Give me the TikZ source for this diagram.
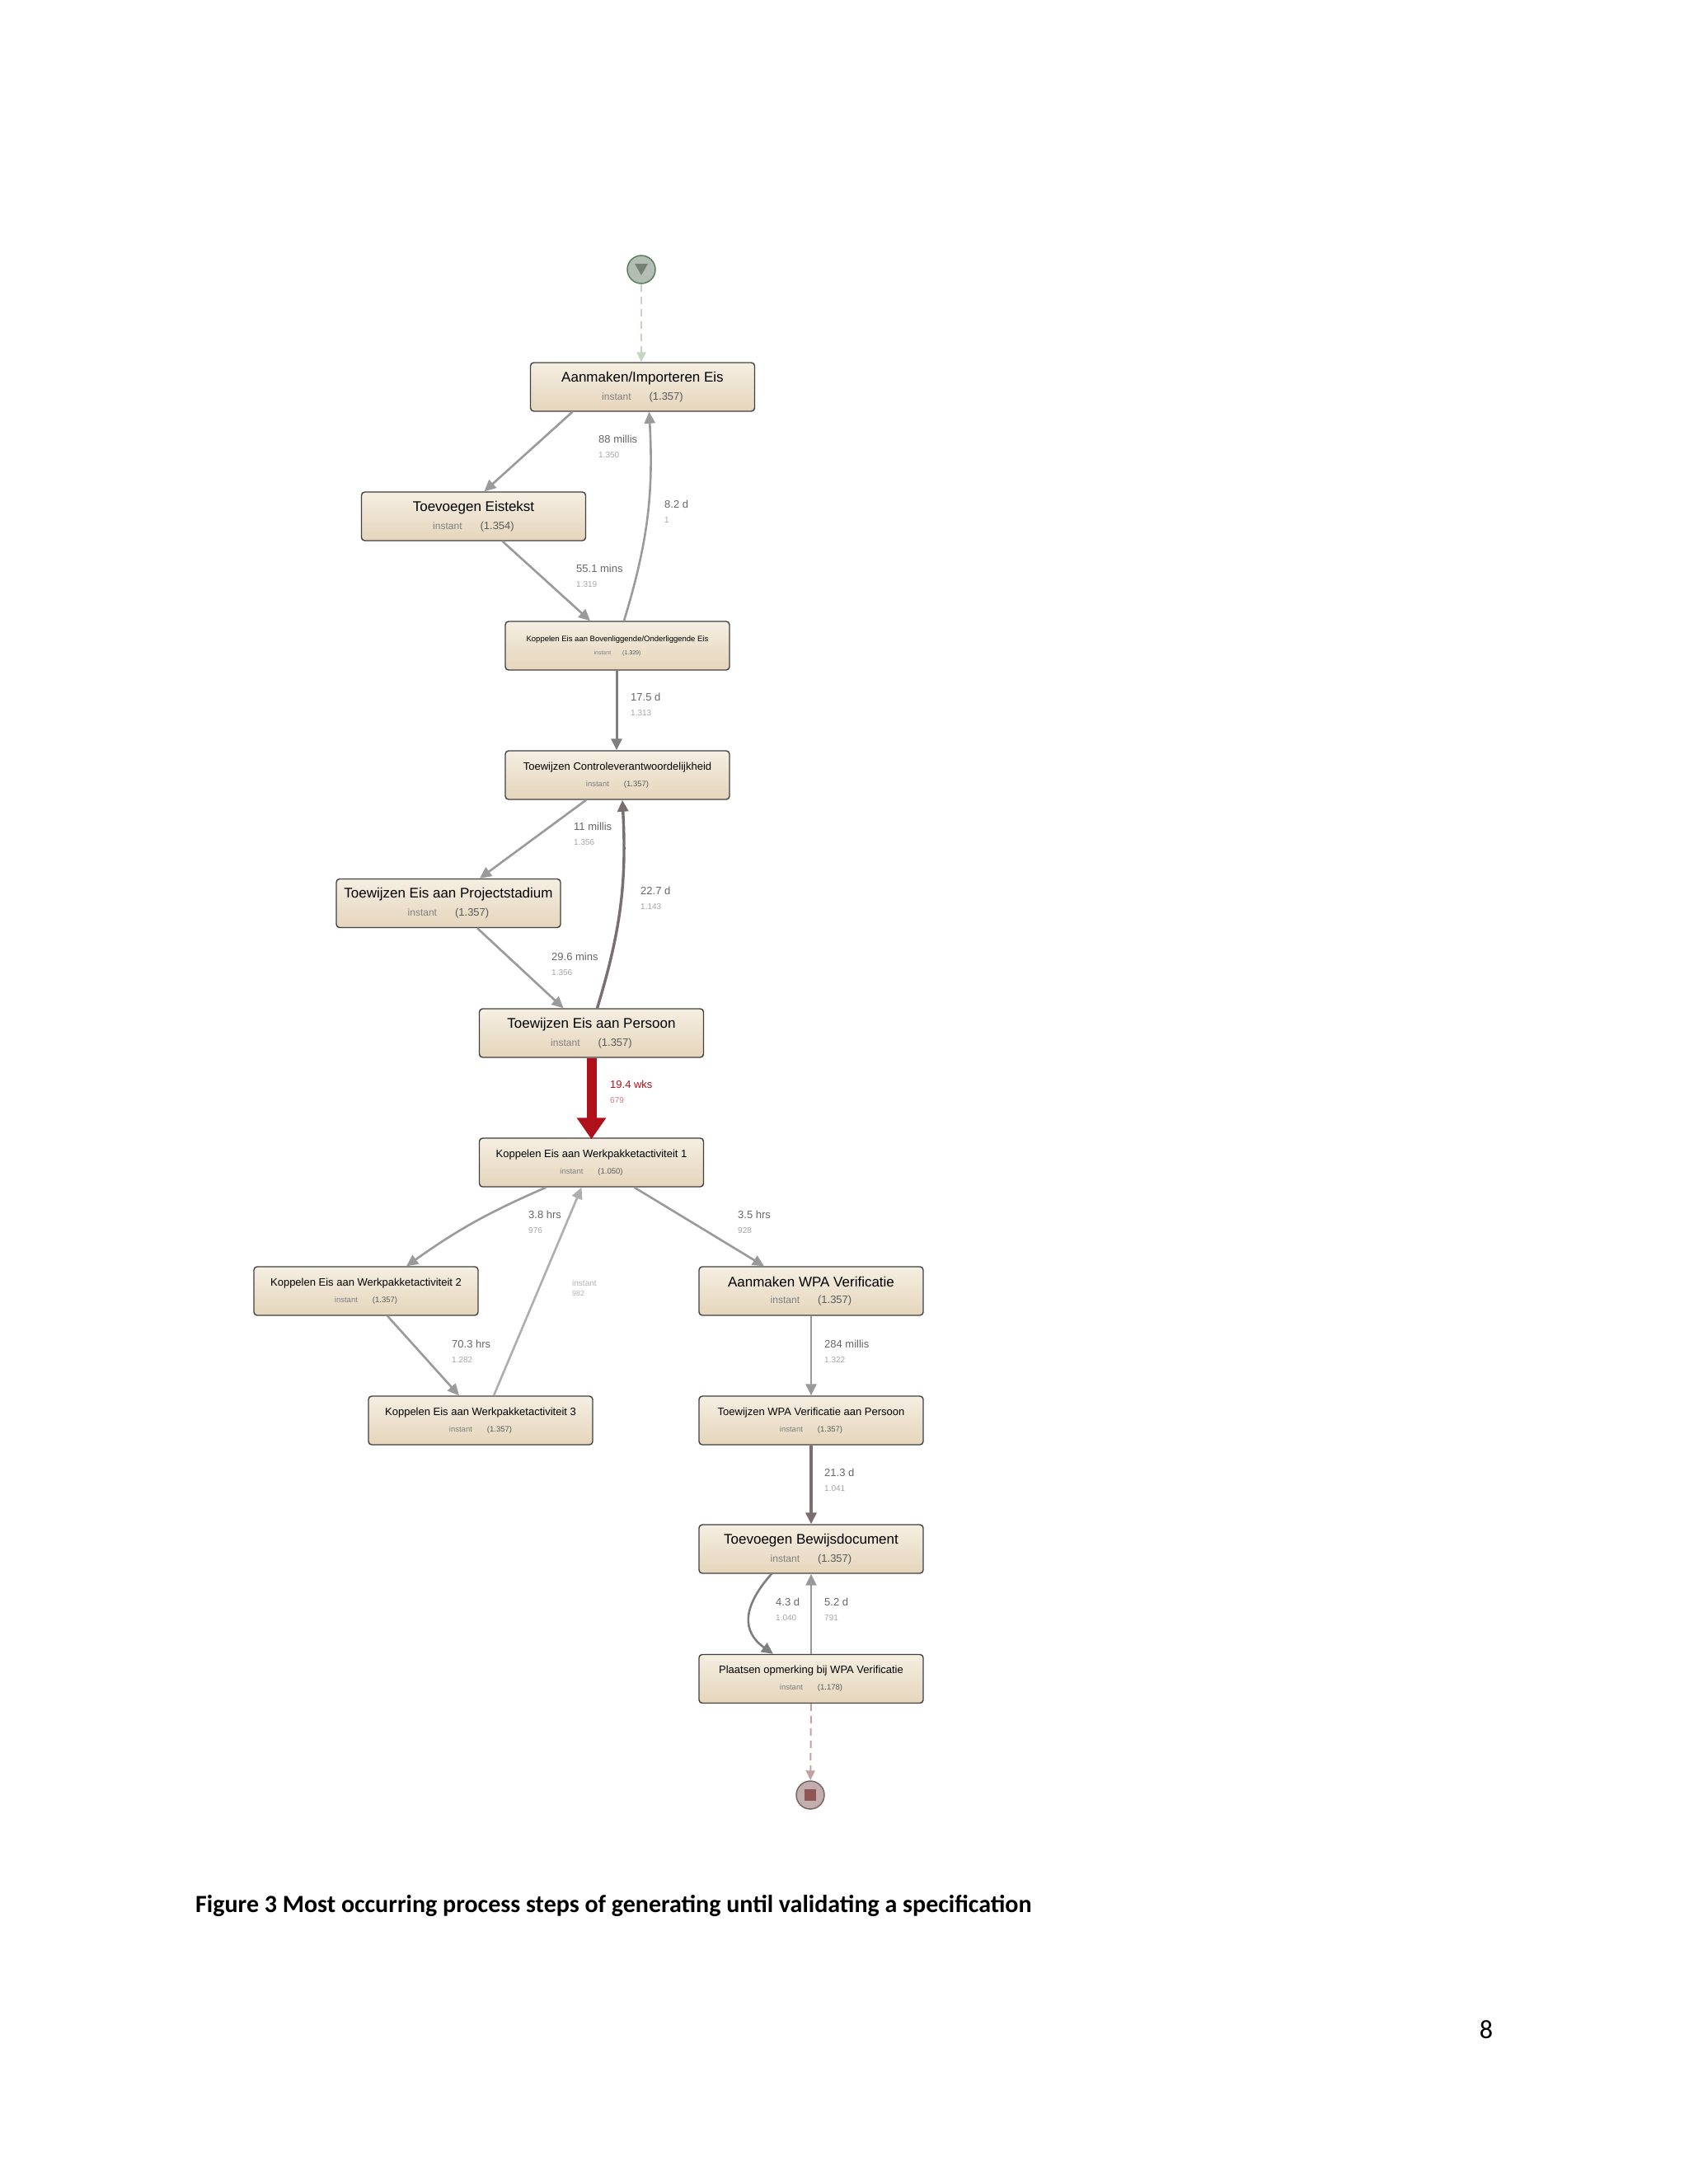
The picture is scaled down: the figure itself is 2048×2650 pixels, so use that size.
\documentclass[tikz,border=0pt]{standalone}
\usepackage{fontspec}
\setmainfont{Liberation Sans}
\newfontfamily\capfont{Carlito}
\usetikzlibrary{arrows.meta,shapes.geometric}
\definecolor{boxtop}{HTML}{F5EEE2}
\definecolor{boxbot}{HTML}{E5D5BB}
\definecolor{edgec}{HTML}{7E7E7E}
\definecolor{edgelt}{HTML}{9A9A9A}
\definecolor{edgedk}{HTML}{7A6E70}
\definecolor{redc}{HTML}{B0101A}
\tikzset{
 act/.style={draw=black!75,line width=1.4pt,rounded corners=4pt,top color=boxtop,bottom color=boxbot,minimum width=272pt,minimum height=59pt,align=center,inner sep=2pt},
 conn/.style={draw=edgec,line width=2.6pt,-{Triangle[length=14pt,width=13pt]}},
 connlt/.style={conn,draw=edgelt},
 conndk/.style={conn,draw=edgedk,line width=3.4pt},
 lab/.style={anchor=west,align=left,inner sep=0pt,font=\fontsize{13}{15}\selectfont,text=black!60},
}
\newcommand{\actbig}[3]{{\fontsize{17}{22}\selectfont #1}\\[8pt]{\fontsize{12}{14}\selectfont\color{black!50}#2\hspace{22pt}\color{black!65}\fontsize{13}{14}\selectfont(#3)}}
\newcommand{\actmid}[3]{{\fontsize{13}{17}\selectfont #1}\\[8pt]{\fontsize{9.5}{11}\selectfont\color{black!50}#2\hspace{18pt}\color{black!65}(#3)}}
\newcommand{\actsmall}[3]{{\fontsize{9.5}{12}\selectfont #1}\\[4pt]{\fontsize{7}{8}\selectfont\color{black!50}#2\hspace{14pt}\color{black!65}(#3)}}
\newcommand{\elab}[2]{#1\\[3pt]{\fontsize{10}{11}\selectfont\color{black!35}#2}}
\begin{document}
\begin{tikzpicture}[x=1pt,y=-1pt]
\useasboundingbox[fill=white] (0,0) rectangle (2048,2650);
% start / end
\node[circle,draw=black!50!green!30!gray,line width=1.5pt,fill=black!10!green!8!gray!55,minimum size=34pt,inner sep=0] (start) at (778,327) {};
\fill[black!45!green!10!gray] (770,320) -- (786,320) -- (778,334) -- cycle;
\node[circle,draw=black!60!red!20!gray,line width=1.5pt,fill=red!15!gray!55,minimum size=34pt,inner sep=0] (end) at (983,2178) {};
\fill[red!25!gray!90!black] (976,2171) rectangle (990,2185);
% activities
\node[act] (a1) at (779.5,469.5) {\actbig{Aanmaken/Importeren Eis}{instant}{1.357}};
\node[act] (a2) at (574.5,626.5) {\actbig{Toevoegen Eistekst}{instant}{1.354}};
\node[act] (a3) at (749,783.5) {\actsmall{Koppelen Eis aan Bovenliggende/Onderliggende Eis}{instant}{1.329}};
\node[act] (a4) at (749,940.5) {\actmid{Toewijzen Controleverantwoordelijkheid}{instant}{1.357}};
\node[act] (a5) at (544,1096) {\actbig{Toewijzen Eis aan Projectstadium}{instant}{1.357}};
\node[act] (a6) at (717.5,1253.5) {\actbig{Toewijzen Eis aan Persoon}{instant}{1.357}};
\node[act] (a7) at (717.5,1410.5) {\actmid{Koppelen Eis aan Werkpakketactiviteit 1}{instant}{1.050}};
\node[act] (a8) at (444,1566.5) {\actmid{Koppelen Eis aan Werkpakketactiviteit 2}{instant}{1.357}};
\node[act] (a9) at (984,1566.5) {\actbig{Aanmaken WPA Verificatie}{instant}{1.357}};
\node[act] (a10) at (583,1723.5) {\actmid{Koppelen Eis aan Werkpakketactiviteit 3}{instant}{1.357}};
\node[act] (a11) at (984,1723.5) {\actmid{Toewijzen WPA Verificatie aan Persoon}{instant}{1.357}};
\node[act] (a12) at (984,1879.5) {\actbig{Toevoegen Bewijsdocument}{instant}{1.357}};
\node[act] (a13) at (984,2037) {\actmid{Plaatsen opmerking bij WPA Verificatie}{instant}{1.178}};
% connectors
\draw[dashed,draw=gray!80!green!40,line width=2pt,dash pattern=on 9pt off 6pt,-{Triangle[length=12pt,width=11pt]}] (start) -- (a1.north -| start);
\draw[connlt] ([xshift=-85pt]a1.south) -- ([xshift=13pt]a2.north);
\draw[connlt] ([xshift=35pt]a2.south) -- ([xshift=-33pt]a3.north);
\draw[connlt] ([xshift=8pt]a3.north) to[bend right=10] ([xshift=8pt]a1.south);
\draw[conn,line width=3pt] ([xshift=-1pt]a3.south) -- ([xshift=-1pt]a4.north);
\draw[connlt] ([xshift=-38pt]a4.south) -- ([xshift=38pt]a5.north);
\draw[connlt] ([xshift=35pt]a5.south) -- ([xshift=-34pt]a6.north);
\draw[conndk] ([xshift=7pt]a6.north) to[bend right=10] ([xshift=6pt]a4.south);
\draw[draw=redc,line width=12pt,-{Triangle[length=26pt,width=34pt]},shorten >=-2pt] (a6.south) -- (a7.north);
\draw[connlt] ([xshift=-55pt]a7.south) to[bend right=6] ([xshift=49pt]a8.north);
\draw[connlt] ([xshift=52pt]a7.south) -- ([xshift=-57pt]a9.north);
\draw[connlt] ([xshift=26pt]a8.south) -- ([xshift=-26pt]a10.north);
\draw[connlt,draw=edgelt!80] ([xshift=16pt]a10.north) -- ([xshift=-12pt]a7.south);
\draw[connlt] (a9.south) -- (a11.north);
\draw[conndk] (a11.south) -- (a12.north);
\draw[conn] ([xshift=-48pt]a12.south) .. controls (900,1950) and (900,1980) .. ([xshift=-46pt]a13.north);
\draw[connlt] (a13.north) -- (a12.south);
\draw[dashed,draw=red!20!gray!60,line width=2pt,dash pattern=on 9pt off 6pt,-{Triangle[length=12pt,width=11pt]}] (a13.south) -- (end);
% edge labels
\node[lab] (l1) at (726,542) {\elab{88 millis}{1.350}};
\node[lab] (l2) at (806,621) {\elab{8.2 d}{1}};
\node[lab] (l3) at (699,699) {\elab{55.1 mins}{1.319}};
\node[lab] (l4) at (765,855) {\elab{17.5 d}{1.313}};
\node[lab] (l5) at (696,1012) {\elab{11 millis}{1.356}};
\node[lab] (l6) at (777,1090) {\elab{22.7 d}{1.143}};
\node[lab] (l7) at (669,1170) {\elab{29.6 mins}{1.356}};
\node[lab,text=redc] (l8) at (740,1325) {19.4 wks\\[3pt]{\fontsize{10}{11}\selectfont\color{redc!55}679}};
\node[lab] (l9) at (641,1483) {\elab{3.8 hrs}{976}};
\node[lab] (l10) at (895,1483) {\elab{3.5 hrs}{928}};
\node[lab,text=black!30,font=\fontsize{10}{12}\selectfont] (l11) at (694,1563) {instant\\[0pt]{\fontsize{9}{10}\selectfont\color{black!30}982}};
\node[lab] (l12) at (548,1640) {\elab{70.3 hrs}{1.282}};
\node[lab] (l13) at (1000,1640) {\elab{284 millis}{1.322}};
\node[lab] (l14) at (1000,1796) {\elab{21.3 d}{1.041}};
\node[lab] (l15) at (941,1953) {\elab{4.3 d}{1.040}};
\node[lab] (l16) at (1000,1953) {\elab{5.2 d}{791}};
% caption
\node[anchor=west,inner sep=0] (cap) at (237,2312) {\capfont\bfseries\fontsize{30}{34}\selectfont Figure 3 Most occurring process steps of generating until validating a specification};
\node[inner sep=0] (pg) at (1803,2463) {\capfont\fontsize{32}{36}\selectfont 8};
\end{tikzpicture}
\end{document}
